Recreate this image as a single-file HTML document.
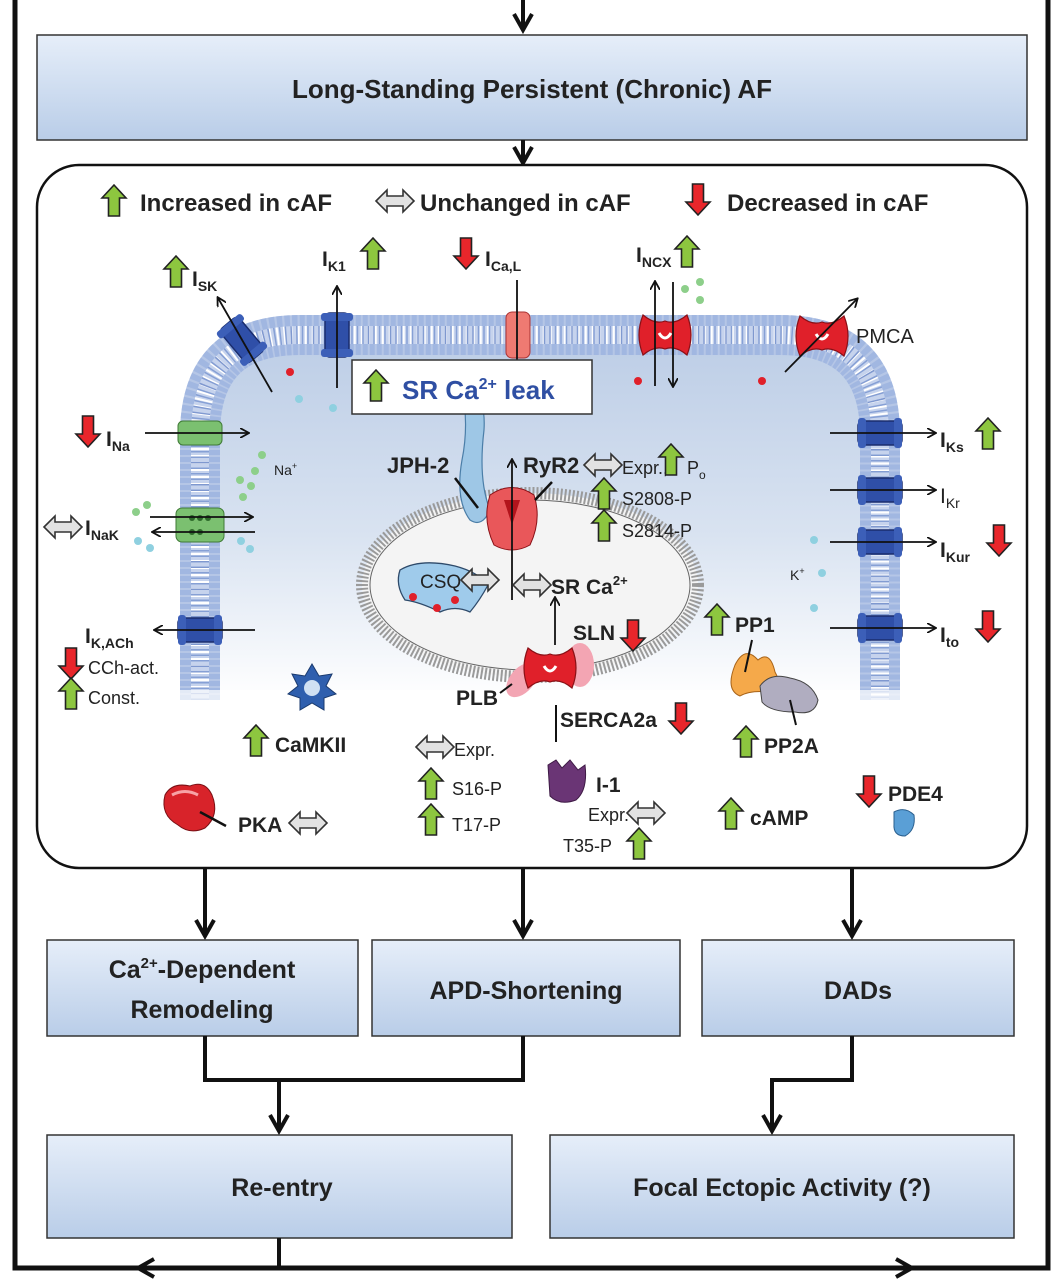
<!DOCTYPE html>
<html><head><meta charset="utf-8"><style>
html,body{margin:0;padding:0;background:#fff}
svg{display:block}
text{font-family:"Liberation Sans",sans-serif;fill:#222}
.b{font-weight:bold}
</style></head><body>
<svg width="1062" height="1280" viewBox="0 0 1062 1280" xmlns="http://www.w3.org/2000/svg">
<defs>
<linearGradient id="bx" x1="0" y1="0" x2="0" y2="1"><stop offset="0" stop-color="#e6eef9"/><stop offset="1" stop-color="#b9cde8"/></linearGradient>
<linearGradient id="cell" x1="0" y1="0" x2="0" y2="1"><stop offset="0" stop-color="#bccde6"/><stop offset="0.55" stop-color="#d9e3f1"/><stop offset="1" stop-color="#ffffff"/></linearGradient>
<marker id="ah" markerWidth="10" markerHeight="10" refX="8" refY="5" orient="auto" markerUnits="userSpaceOnUse"><path d="M0,0 L9,5 L0,10" fill="none" stroke="#111" stroke-width="1.8"/></marker>
<marker id="bh" markerWidth="22" markerHeight="22" refX="18" refY="11" orient="auto" markerUnits="userSpaceOnUse"><path d="M2,2 L18,11 L2,20" fill="none" stroke="#111" stroke-width="4"/></marker>
<g id="up"><path d="M12,0 L24,13 L17.5,13 L17.5,31 L6.5,31 L6.5,13 L0,13 Z" fill="#8dc63f" stroke="#222" stroke-width="1.6"/></g>
<g id="dn"><path d="M12,31 L24,18 L17.5,18 L17.5,0 L6.5,0 L6.5,18 L0,18 Z" fill="#e8262b" stroke="#222" stroke-width="1.6"/></g>
<g id="lr"><path d="M0,11 L11,0 L11,6 L27,6 L27,0 L38,11 L27,22 L27,16 L11,16 L11,22 Z" fill="#e2e2e2" stroke="#333" stroke-width="1.6"/></g>
<g id="ch"><rect x="-12" y="-22" width="24" height="44" rx="5" fill="#2f4fa8" stroke="#1a2d6e" stroke-width="1.5"/><rect x="-16" y="-22" width="32" height="8" rx="3" fill="#3c5fb8"/><rect x="-16" y="14" width="32" height="8" rx="3" fill="#3c5fb8"/></g>
<g id="chh"><rect x="-22" y="-12" width="44" height="24" rx="5" fill="#2f4fa8" stroke="#1a2d6e" stroke-width="1.5"/><rect x="-22" y="-15" width="8" height="30" rx="3" fill="#3c5fb8"/><rect x="14" y="-15" width="8" height="30" rx="3" fill="#3c5fb8"/></g>
<g id="pump"><path d="M-22,-20 Q-10,-10 0,-14 Q10,-10 22,-20 Q30,0 22,20 Q10,10 0,14 Q-10,10 -22,20 Q-30,0 -22,-20 Z" fill="#e0202a" stroke="#8a1016" stroke-width="1.2"/><path d="M-6,-2 Q0,8 6,-2" fill="none" stroke="#fff" stroke-width="3"/></g>
</defs>
<path d="M15,0 L15,1268 L1048,1268 L1048,0" fill="none" stroke="#111" stroke-width="5"/>
<line x1="523" y1="0" x2="523" y2="30" stroke="#111" stroke-width="4" marker-end="url(#bh)"/>
<line x1="200" y1="1268" x2="138" y2="1268" stroke="#111" stroke-width="4" marker-end="url(#bh)"/>
<line x1="850" y1="1268" x2="912" y2="1268" stroke="#111" stroke-width="4" marker-end="url(#bh)"/>
<rect x="37" y="35" width="990" height="105" fill="url(#bx)" stroke="#333" stroke-width="1.5"/>
<text x="532" y="98" text-anchor="middle" class="b" font-size="26">Long-Standing Persistent (Chronic) AF</text>
<line x1="523" y1="140" x2="523" y2="163" stroke="#111" stroke-width="4" marker-end="url(#bh)"/>
<rect x="37" y="165" width="990" height="703" rx="42" fill="#fff" stroke="#111" stroke-width="2.5"/>
<path d="M200,700 L200,435 Q200,335 300,335 L780,335 Q880,335 880,435 L880,700 Z" fill="url(#cell)"/>
<g fill="none">
<path d="M200,700 L200,435 Q200,335 300,335 L780,335 Q880,335 880,435 L880,700" stroke="#b5c6e6" stroke-width="40"/>
<path d="M200,700 L200,435 Q200,335 300,335 L780,335 Q880,335 880,435 L880,700" stroke="#fff" stroke-width="18"/>
<path d="M200,700 L200,435 Q200,335 300,335 L780,335 Q880,335 880,435 L880,700" stroke="#7f98cf" stroke-width="18" stroke-dasharray="1.5 4"/>
<path d="M200,700 L200,435 Q200,335 300,335 L780,335 Q880,335 880,435 L880,700" stroke="#8ea8db" stroke-width="40" stroke-dasharray="5 2" opacity="0.5"/>
</g>
<rect x="170" y="690" width="740" height="30" fill="#fff" opacity="0.7"/>
<use href="#up" x="102" y="185"/><text x="140" y="211" class="b" font-size="24">Increased in cAF</text>
<use href="#lr" x="376" y="190"/><text x="420" y="211" class="b" font-size="24">Unchanged in cAF</text>
<use href="#dn" x="686" y="184"/><text x="727" y="211" class="b" font-size="24">Decreased in cAF</text>
<ellipse cx="530" cy="585" rx="168" ry="92" fill="#f4f4f4" stroke="#9a9a9a" stroke-width="12" stroke-dasharray="2 2"/>
<ellipse cx="530" cy="585" rx="160" ry="85" fill="none" stroke="#666" stroke-width="1"/>
<path d="M460,380 Q470,420 462,460 Q455,500 470,520 Q482,528 490,510 Q478,480 484,430 Q486,400 470,375 Z" fill="#9ec7e6" stroke="#4b7ea8" stroke-width="1.2"/>
<path d="M490,495 Q512,480 534,495 Q542,520 530,545 Q512,555 494,545 Q482,520 490,495 Z" fill="#e9575a" stroke="#8a1016"/>
<path d="M504,500 L512,525 L520,500 Z" fill="#b3141c"/>
<line x1="512" y1="600" x2="512" y2="460" stroke="#111" stroke-width="1.8" marker-end="url(#ah)"/>
<line x1="455" y1="478" x2="478" y2="508" stroke="#111" stroke-width="2.5"/>
<line x1="535" y1="500" x2="552" y2="482" stroke="#111" stroke-width="2.5"/>
<text x="387" y="473" class="b" font-size="22">JPH-2</text>
<text x="523" y="473" class="b" font-size="22">RyR2</text>
<use href="#lr" x="584" y="454"/><text x="622" y="474" font-size="18">Expr.,</text><use href="#up" x="659" y="444"/><text x="687" y="474" font-size="18">P<tspan font-size="12" dy="5">o</tspan></text>
<use href="#up" x="592" y="478"/><text x="622" y="505" font-size="18">S2808-P</text>
<use href="#up" x="592" y="510"/><text x="622" y="537" font-size="18">S2814-P</text>
<path d="M400,570 Q420,558 455,566 Q478,572 488,585 Q480,600 470,612 Q455,605 440,612 Q420,602 405,600 Q395,585 400,570 Z" fill="#9fcbeb" stroke="#2e4a6a" stroke-width="1.3"/>
<circle cx="413" cy="597" r="4" fill="#e0202a"/><circle cx="437" cy="608" r="4" fill="#e0202a"/><circle cx="455" cy="600" r="4" fill="#e0202a"/>
<text x="420" y="588" font-size="19">CSQ</text>
<use href="#lr" x="461" y="569"/>
<use href="#lr" x="513" y="574"/><text x="551" y="594" class="b" font-size="21">SR Ca<tspan font-size="13" dy="-9">2+</tspan></text>
<ellipse cx="580" cy="665" rx="14" ry="22" fill="#f3a5b3"/>
<ellipse cx="522" cy="680" rx="12" ry="20" fill="#f3a5b3" transform="rotate(40 522 680)"/>
<use href="#pump" x="550" y="668"/>
<line x1="555" y1="645" x2="555" y2="598" stroke="#111" stroke-width="1.8" marker-end="url(#ah)"/>
<line x1="512" y1="684" x2="500" y2="693" stroke="#111" stroke-width="2"/>
<line x1="556" y1="705" x2="556" y2="742" stroke="#111" stroke-width="2"/>
<text x="573" y="640" class="b" font-size="21">SLN</text><use href="#dn" x="621" y="620"/>
<text x="456" y="705" class="b" font-size="21">PLB</text>
<text x="560" y="727" class="b" font-size="21">SERCA2a</text><use href="#dn" x="669" y="703"/>
<use href="#lr" x="416" y="736"/><text x="454" y="756" font-size="18">Expr.</text>
<use href="#up" x="419" y="768"/><text x="452" y="795" font-size="18">S16-P</text>
<use href="#up" x="419" y="804"/><text x="452" y="831" font-size="18">T17-P</text>
<path d="M548,765 L556,760 L562,768 L570,760 L578,770 L585,765 Q588,790 576,800 Q560,806 550,796 Z" fill="#6a3575" stroke="#3e1a45"/>
<text x="596" y="792" class="b" font-size="21">I-1</text>
<text x="588" y="821" font-size="18">Expr.</text><use href="#lr" x="627" y="802"/>
<text x="563" y="852" font-size="18">T35-P</text><use href="#up" x="627" y="828"/>
<use href="#ch" x="242" y="340" transform="rotate(-40 242 340)"/>
<line x1="272" y1="392" x2="218" y2="298" stroke="#111" stroke-width="1.8" marker-end="url(#ah)"/>
<use href="#up" x="164" y="256"/><text x="192" y="286" class="b" font-size="21">I<tspan font-size="14" dy="5">SK</tspan></text>
<use href="#ch" x="337" y="335"/>
<line x1="337" y1="388" x2="337" y2="287" stroke="#111" stroke-width="1.8" marker-end="url(#ah)"/>
<text x="322" y="266" class="b" font-size="21">I<tspan font-size="14" dy="5">K1</tspan></text><use href="#up" x="361" y="238"/>
<rect x="506" y="312" width="24" height="46" rx="6" fill="#ef7a72" stroke="#a33"/>
<line x1="517" y1="280" x2="517" y2="362" stroke="#111" stroke-width="1.8"/>
<use href="#dn" x="454" y="238"/><text x="485" y="266" class="b" font-size="21">I<tspan font-size="14" dy="5">Ca,L</tspan></text>
<use href="#pump" x="665" y="335"/>
<line x1="655" y1="386" x2="655" y2="282" stroke="#111" stroke-width="1.8" marker-end="url(#ah)"/>
<line x1="673" y1="282" x2="673" y2="386" stroke="#111" stroke-width="1.8" marker-end="url(#ah)"/>
<text x="636" y="262" class="b" font-size="21">I<tspan font-size="14" dy="5">NCX</tspan></text><use href="#up" x="675" y="236"/>
<circle cx="685" cy="289" r="4" fill="#8dcf8a"/><circle cx="700" cy="282" r="4" fill="#8dcf8a"/><circle cx="700" cy="300" r="4" fill="#8dcf8a"/>
<use href="#pump" x="822" y="336"/>
<line x1="785" y1="372" x2="857" y2="299" stroke="#111" stroke-width="1.8" marker-end="url(#ah)"/>
<text x="856" y="343" font-size="20">PMCA</text>
<circle cx="290" cy="372" r="4" fill="#e0202a"/><circle cx="638" cy="381" r="4" fill="#e0202a"/><circle cx="762" cy="381" r="4" fill="#e0202a"/>
<circle cx="299" cy="399" r="4" fill="#8fd0e0"/><circle cx="333" cy="408" r="4" fill="#8fd0e0"/>
<rect x="352" y="360" width="240" height="54" fill="#fff" stroke="#333" stroke-width="1.5"/>
<use href="#up" x="364" y="370"/>
<text x="402" y="399" class="b" font-size="26" style="fill:#2f4fa3">SR Ca<tspan font-size="16" dy="-10" style="fill:#2f4fa3">2+</tspan><tspan dy="10" style="fill:#2f4fa3"> leak</tspan></text>
<g transform="translate(200,433)"><rect x="-22" y="-12" width="44" height="24" rx="5" fill="#7bc070" stroke="#3f7a36"/></g>
<line x1="145" y1="433" x2="248" y2="433" stroke="#111" stroke-width="1.8" marker-end="url(#ah)"/>
<use href="#dn" x="76" y="416"/><text x="106" y="446" class="b" font-size="21">I<tspan font-size="14" dy="5">Na</tspan></text>
<text x="274" y="475" font-size="14">Na<tspan font-size="9" dy="-6">+</tspan></text>
<circle cx="262" cy="455" r="4" fill="#8dcf8a"/><circle cx="255" cy="471" r="4" fill="#8dcf8a"/><circle cx="240" cy="480" r="4" fill="#8dcf8a"/><circle cx="251" cy="486" r="4" fill="#8dcf8a"/><circle cx="243" cy="497" r="4" fill="#8dcf8a"/>
<g transform="translate(200,525)"><rect x="-24" y="-17" width="48" height="34" rx="6" fill="#7bc070" stroke="#3f7a36"/><circle cx="-8" cy="-7" r="3" fill="#2d6a2a"/><circle cx="0" cy="-7" r="3" fill="#2d6a2a"/><circle cx="8" cy="-7" r="3" fill="#2d6a2a"/><circle cx="-8" cy="7" r="3" fill="#2d6a2a"/><circle cx="0" cy="7" r="3" fill="#2d6a2a"/></g>
<line x1="150" y1="517" x2="252" y2="517" stroke="#111" stroke-width="1.8" marker-end="url(#ah)"/>
<line x1="255" y1="532" x2="153" y2="532" stroke="#111" stroke-width="1.8" marker-end="url(#ah)"/>
<use href="#lr" x="44" y="516"/><text x="85" y="535" class="b" font-size="21">I<tspan font-size="14" dy="5">NaK</tspan></text>
<circle cx="136" cy="512" r="4" fill="#8dcf8a"/><circle cx="147" cy="505" r="4" fill="#8dcf8a"/><circle cx="138" cy="541" r="4" fill="#8fd0e0"/><circle cx="150" cy="548" r="4" fill="#8fd0e0"/><circle cx="241" cy="541" r="4" fill="#8fd0e0"/><circle cx="250" cy="549" r="4" fill="#8fd0e0"/>
<use href="#chh" x="200" y="630"/>
<line x1="255" y1="630" x2="155" y2="630" stroke="#111" stroke-width="1.8" marker-end="url(#ah)"/>
<text x="85" y="643" class="b" font-size="21">I<tspan font-size="14" dy="5">K,ACh</tspan></text>
<use href="#dn" x="59" y="648"/><text x="88" y="674" font-size="18">CCh-act.</text>
<use href="#up" x="59" y="678"/><text x="88" y="704" font-size="18">Const.</text>
<use href="#chh" x="880" y="433"/><line x1="830" y1="433" x2="935" y2="433" stroke="#111" stroke-width="1.8" marker-end="url(#ah)"/>
<text x="940" y="447" class="b" font-size="21">I<tspan font-size="14" dy="5">Ks</tspan></text><use href="#up" x="976" y="418"/>
<use href="#chh" x="880" y="490"/><line x1="830" y1="490" x2="935" y2="490" stroke="#111" stroke-width="1.8" marker-end="url(#ah)"/>
<text x="940" y="503" font-size="21">I<tspan font-size="14" dy="5">Kr</tspan></text>
<use href="#chh" x="880" y="542"/><line x1="830" y1="542" x2="935" y2="542" stroke="#111" stroke-width="1.8" marker-end="url(#ah)"/>
<text x="940" y="557" class="b" font-size="21">I<tspan font-size="14" dy="5">Kur</tspan></text><use href="#dn" x="987" y="525"/>
<use href="#chh" x="880" y="628"/><line x1="830" y1="628" x2="935" y2="628" stroke="#111" stroke-width="1.8" marker-end="url(#ah)"/>
<text x="940" y="642" class="b" font-size="21">I<tspan font-size="14" dy="5">to</tspan></text><use href="#dn" x="976" y="611"/>
<text x="790" y="580" font-size="14">K<tspan font-size="9" dy="-6">+</tspan></text>
<circle cx="814" cy="540" r="4" fill="#8fd0e0"/><circle cx="822" cy="573" r="4" fill="#8fd0e0"/><circle cx="814" cy="608" r="4" fill="#8fd0e0"/>
<use href="#up" x="705" y="604"/><text x="735" y="632" class="b" font-size="21">PP1</text>
<path d="M735,665 Q745,645 758,660 Q770,650 775,672 Q785,690 770,692 Q750,690 740,696 Q725,690 735,665 Z" fill="#f5a94a" stroke="#a86318"/>
<line x1="752" y1="640" x2="745" y2="672" stroke="#111" stroke-width="2"/>
<path d="M760,686 Q770,672 790,678 Q812,682 818,700 Q815,716 795,712 Q770,712 762,702 Z" fill="#b0adc0" stroke="#444"/>
<line x1="790" y1="700" x2="796" y2="725" stroke="#111" stroke-width="2"/>
<use href="#up" x="734" y="726"/><text x="764" y="753" class="b" font-size="21">PP2A</text>
<use href="#up" x="719" y="798"/><text x="750" y="825" class="b" font-size="21">cAMP</text>
<use href="#dn" x="857" y="776"/><text x="888" y="801" class="b" font-size="21">PDE4</text>
<path d="M894,812 Q905,806 914,815 Q916,830 905,836 Q893,836 894,824 Z" fill="#5a9fd6" stroke="#2a5f8e"/>
<g transform="translate(312,688)" stroke="#1a3a6e">
<path d="M0,-24 L7,-12 L20,-14 L14,-2 L24,6 L12,10 L12,22 L0,15 L-12,22 L-12,10 L-24,6 L-14,-2 L-20,-14 L-7,-12 Z" fill="#2f5fae"/>
<circle r="8" fill="#cfe0f3" stroke="none"/>
</g>
<use href="#up" x="244" y="725"/><text x="275" y="752" class="b" font-size="21">CaMKII</text>
<path d="M165,795 Q172,782 190,786 Q205,780 212,795 Q220,815 205,828 Q190,835 178,825 Q160,815 165,795 Z" fill="#d8232a" stroke="#7a1015"/>
<path d="M172,795 Q185,788 198,795" stroke="#f7a3a6" stroke-width="3" fill="none"/>
<line x1="200" y1="812" x2="226" y2="826" stroke="#111" stroke-width="2.5"/>
<text x="238" y="832" class="b" font-size="21">PKA</text><use href="#lr" x="289" y="812"/>
<line x1="205" y1="868" x2="205" y2="936" stroke="#111" stroke-width="4" marker-end="url(#bh)"/>
<line x1="523" y1="868" x2="523" y2="936" stroke="#111" stroke-width="4" marker-end="url(#bh)"/>
<line x1="852" y1="868" x2="852" y2="936" stroke="#111" stroke-width="4" marker-end="url(#bh)"/>
<rect x="47" y="940" width="311" height="96" fill="url(#bx)" stroke="#333" stroke-width="1.5"/>
<text x="202" y="978" text-anchor="middle" class="b" font-size="25">Ca<tspan font-size="15" dy="-10">2+</tspan><tspan dy="10">-Dependent</tspan></text>
<text x="202" y="1018" text-anchor="middle" class="b" font-size="25">Remodeling</text>
<rect x="372" y="940" width="308" height="96" fill="url(#bx)" stroke="#333" stroke-width="1.5"/>
<text x="526" y="999" text-anchor="middle" class="b" font-size="25">APD-Shortening</text>
<rect x="702" y="940" width="312" height="96" fill="url(#bx)" stroke="#333" stroke-width="1.5"/>
<text x="858" y="999" text-anchor="middle" class="b" font-size="25">DADs</text>
<path d="M205,1036 L205,1080 L523,1080 L523,1036" fill="none" stroke="#111" stroke-width="4"/>
<line x1="279" y1="1080" x2="279" y2="1131" stroke="#111" stroke-width="4" marker-end="url(#bh)"/>
<path d="M852,1036 L852,1080 L772,1080 L772,1131" fill="none" stroke="#111" stroke-width="4" marker-end="url(#bh)"/>
<rect x="47" y="1135" width="465" height="103" fill="url(#bx)" stroke="#333" stroke-width="1.5"/>
<text x="282" y="1196" text-anchor="middle" class="b" font-size="25">Re-entry</text>
<rect x="550" y="1135" width="464" height="103" fill="url(#bx)" stroke="#333" stroke-width="1.5"/>
<text x="782" y="1196" text-anchor="middle" class="b" font-size="25">Focal Ectopic Activity (?)</text>
<line x1="279" y1="1238" x2="279" y2="1268" stroke="#111" stroke-width="4"/>
</svg>
</body></html>
